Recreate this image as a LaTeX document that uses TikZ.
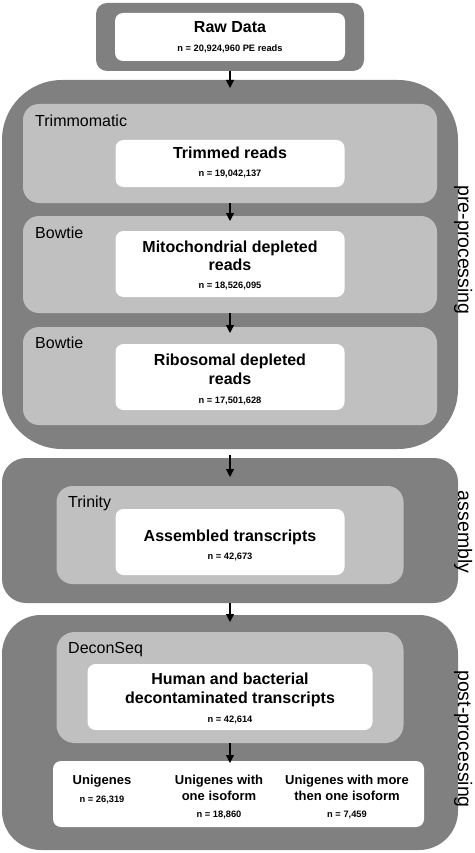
\documentclass[tikz,border=0pt]{standalone}
\usepackage{fontspec}
\setmainfont{Liberation Sans}
\usetikzlibrary{arrows.meta}
\definecolor{darkfill}{RGB}{128,128,128}
\definecolor{lightfill}{RGB}{192,192,192}
\tikzset{
  box/.style={draw=none, inner sep=0pt, outer sep=0pt},
  outerbox/.style={box, fill=darkfill},
  lightbox/.style={box, fill=lightfill},
  whitebox/.style={box, fill=white},
  title/.style={inner sep=0pt, anchor=base, font=\fontsize{16}{19}\selectfont\bfseries},
  subtitle/.style={inner sep=0pt, anchor=base, font=\fontsize{13}{15}\selectfont\bfseries},
  count/.style={inner sep=0pt, anchor=base, font=\fontsize{9.3}{11}\selectfont\bfseries},
  toollabel/.style={inner sep=0pt, anchor=base west, font=\fontsize{16}{19}\selectfont},
  sidelabel/.style={inner sep=0pt, anchor=base, rotate=-90, font=\fontsize{19.5}{22}\selectfont},
  arr/.style={-{Triangle[length=8pt,width=8pt]}, line width=1.1pt, black}
}
\begin{document}
\begin{tikzpicture}[x=1pt,y=-1pt]
\useasboundingbox (0,0) rectangle (474,853);
% Raw data
\node[outerbox, rounded corners=11pt, minimum width=268pt, minimum height=68pt] (rawO) at (230,37) {};
\node[whitebox, rounded corners=8pt, minimum width=230pt, minimum height=48pt] (rawW) at (230,37) {};
\node[title] (rawT) at (230,33) {Raw Data};
\node[count] (rawN) at (230,52) {n = 20,924,960 PE reads};
% Pre-processing
\node[outerbox, rounded corners=60pt, minimum width=456pt, minimum height=369pt] (preO) at (230,264.5) {};
\node[sidelabel] (preS) at (458,250) {pre-processing};
% Trimmomatic
\node[lightbox, rounded corners=16pt, minimum width=414pt, minimum height=99pt] (trimL) at (230,153.5) {};
\node[toollabel] (trimLab) at (35,127) {Trimmomatic};
\node[whitebox, rounded corners=8pt, minimum width=229pt, minimum height=47pt] (trimW) at (230,163.5) {};
\node[title] (trimT) at (230,159) {Trimmed reads};
\node[count] (trimN) at (230,177) {n = 19,042,137};
% Bowtie 1
\node[lightbox, rounded corners=16pt, minimum width=414pt, minimum height=97pt] (bowA) at (230,264.5) {};
\node[toollabel] (bowALab) at (35,238) {Bowtie};
\node[whitebox, rounded corners=8pt, minimum width=229pt, minimum height=66pt] (bowAW) at (230,264) {};
\node[title] (bowAT1) at (230,252) {Mitochondrial depleted};
\node[title] (bowAT2) at (230,270.5) {reads};
\node[count] (bowAN) at (230,288) {n = 18,526,095};
% Bowtie 2
\node[lightbox, rounded corners=16pt, minimum width=414pt, minimum height=98pt] (bowB) at (230,376) {};
\node[toollabel] (bowBLab) at (35,348) {Bowtie};
\node[whitebox, rounded corners=8pt, minimum width=229pt, minimum height=66pt] (bowBW) at (230,377) {};
\node[title] (bowBT1) at (230,365) {Ribosomal depleted};
\node[title] (bowBT2) at (230,384) {reads};
\node[count] (bowBN) at (230,403) {n = 17,501,628};
% Assembly
\node[outerbox, rounded corners=24pt, minimum width=456pt, minimum height=145pt] (asmO) at (230,530.5) {};
\node[sidelabel] (asmS) at (458,532) {assembly};
\node[lightbox, rounded corners=16pt, minimum width=347pt, minimum height=98pt] (trinL) at (230,535) {};
\node[toollabel] (trinLab) at (68,507) {Trinity};
\node[whitebox, rounded corners=8pt, minimum width=229pt, minimum height=66pt] (trinW) at (230,542) {};
\node[title] (trinT) at (230,541) {Assembled transcripts};
\node[count] (trinN) at (230,559) {n = 42,673};
% Post-processing
\node[outerbox, rounded corners=39pt, minimum width=456pt, minimum height=235pt] (postO) at (230,732.5) {};
\node[sidelabel] (postS) at (458,739) {post-processing};
\node[lightbox, rounded corners=18pt, minimum width=347pt, minimum height=111pt] (decL) at (230,687.5) {};
\node[toollabel] (decLab) at (68,653) {DeconSeq};
\node[whitebox, rounded corners=8pt, minimum width=285pt, minimum height=66pt] (decW) at (230,697) {};
\node[title] (decT1) at (230,684) {Human and bacterial};
\node[title] (decT2) at (230,703) {decontaminated transcripts};
\node[count] (decN) at (230,722) {n = 42,614};
% Bottom results
\node[whitebox, rounded corners=8pt, minimum width=371pt, minimum height=66pt] (resW) at (238.5,794) {};
\node[subtitle] (uniT) at (102,784) {Unigenes};
\node[count] (uniN) at (102,802) {n = 26,319};
\node[subtitle] (oneT1) at (219,784) {Unigenes with};
\node[subtitle] (oneT2) at (219,800) {one isoform};
\node[count] (oneN) at (219,817) {n = 18,860};
\node[subtitle] (moreT1) at (347,784) {Unigenes with more};
\node[subtitle] (moreT2) at (347,800) {then one isoform};
\node[count] (moreN) at (347,817) {n = 7,459};
% Arrows
\coordinate (e1) at (230,88);
\coordinate (e2) at (230,221);
\coordinate (e3) at (230,333);
\coordinate (e4) at (230,477);
\coordinate (e5) at (230,622);
\coordinate (e6) at (230,763);
\draw[arr] (rawO.south) -- (e1);
\draw[arr] (trimL.south) -- (e2);
\draw[arr] (bowA.south) -- (e3);
\draw[arr, shorten <=6pt] (preO.south) -- (e4);
\draw[arr] (asmO.south) -- (e5);
\draw[arr] (decL.south) -- (e6);
\end{tikzpicture}
\end{document}
